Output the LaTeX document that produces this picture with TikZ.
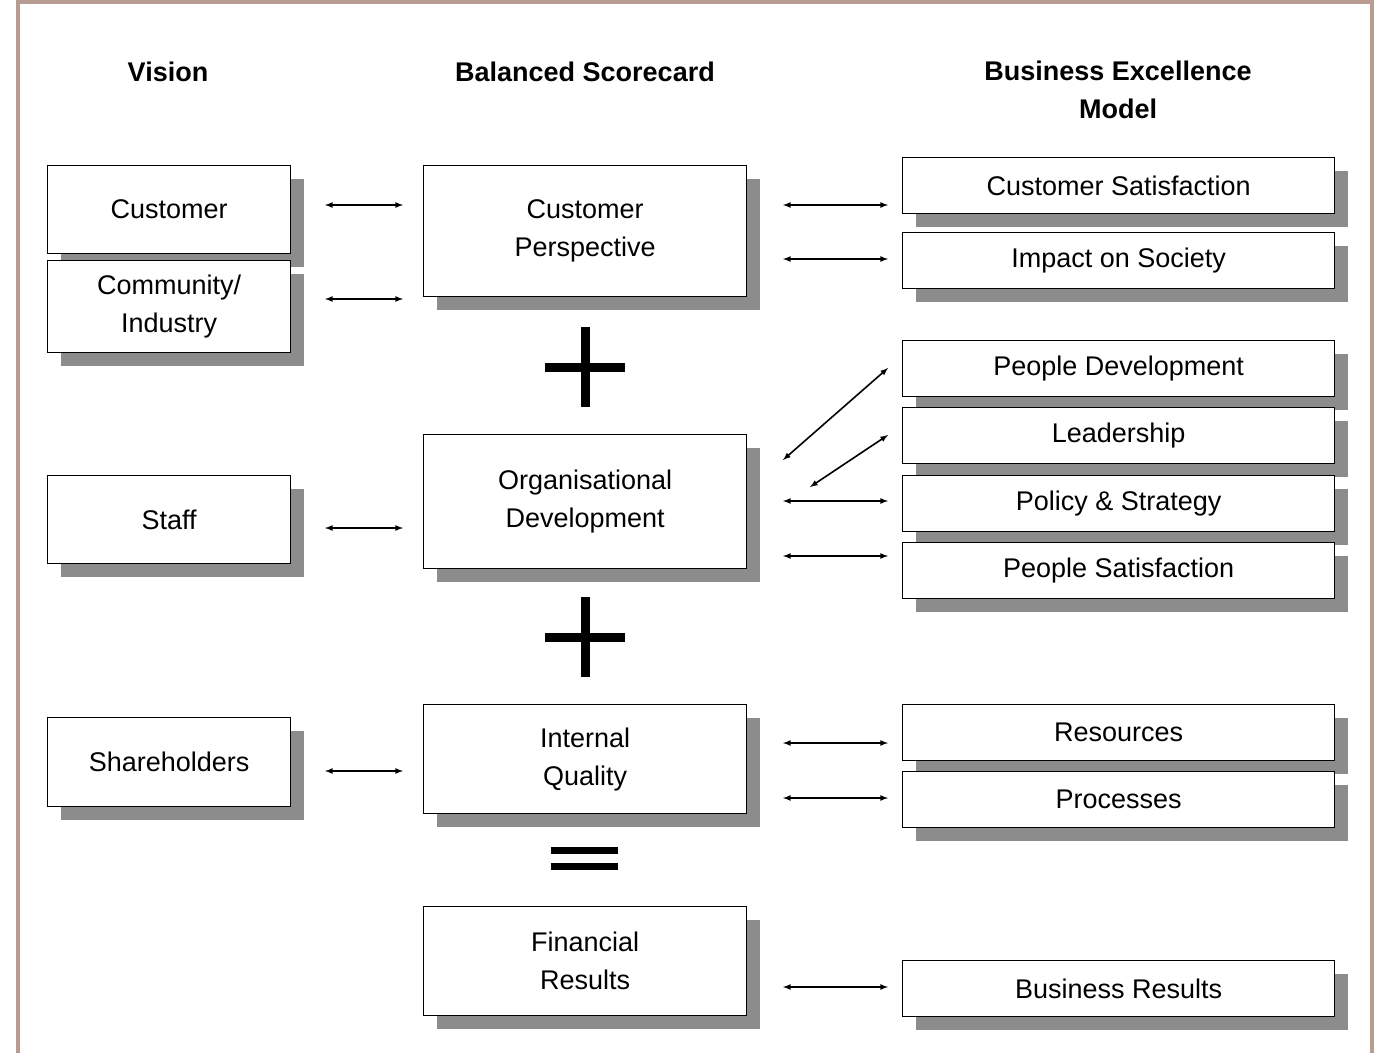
\documentclass[tikz,border=0pt]{standalone}
\usepackage{fontspec}
\setmainfont{Liberation Sans}
\usetikzlibrary{shadows}
\definecolor{frame}{HTML}{B89C92}
\begin{document}
\begin{tikzpicture}[x=1pt,y=-1pt,
  box/.style={draw=black,line width=1.2pt,fill=white,anchor=north west,inner sep=0pt,align=center,
    font=\fontsize{27}{38}\selectfont,
    drop shadow={shadow xshift=13pt,shadow yshift=-13pt,fill=black!45,opacity=1}},
  hd/.style={font=\bfseries\fontsize{27}{38}\selectfont,align=center},
  arr/.style={<->,>=latex,line width=1.6pt,shorten <=0pt},
  bar/.style={line width=9pt}]
\useasboundingbox (0,0) rectangle (1394,1052);
\draw[frame,line width=4pt] (18,-5) -- (18,1060) (1372,-5) -- (1372,1060) (16,2) -- (1374,2);
\node[hd] (h1) at (168,72) {Vision};
\node[hd] (h2) at (585,72) {Balanced Scorecard};
\node[hd] (h3) at (1118,90) {Business Excellence\\Model};
% left
\node[box,minimum width=243pt,minimum height=88pt] (l1) at (47,165) {Customer};
\node[box,minimum width=243pt,minimum height=92pt] (l2) at (47,260) {Community/\\Industry};
\node[box,minimum width=243pt,minimum height=88pt] (l3) at (47,475) {Staff};
\node[box,minimum width=243pt,minimum height=89pt] (l4) at (47,717) {Shareholders};
% middle
\node[box,minimum width=323pt,minimum height=131pt] (m1) at (423,165) {Customer\\Perspective};
\node[box,minimum width=323pt,minimum height=134pt] (m2) at (423,434) {Organisational\\Development};
\node[box,minimum width=323pt,minimum height=109pt] (m3) at (423,704) {Internal\\Quality};
\node[box,minimum width=323pt,minimum height=109pt] (m4) at (423,906) {Financial\\Results};
% right
\foreach \n/\y/\t in {r1/157/Customer Satisfaction,r2/232/Impact on Society,r3/340/People Development,
  r4/407/Leadership,r5/475/Policy \& Strategy,r6/542/People Satisfaction,r7/704/Resources,
  r8/771/Processes,r9/960/Business Results}
  \node[box,minimum width=432pt,minimum height=56pt] (\n) at (902,\y) {\t};
% arrows left
\foreach \i/\y in {1/205,2/299,3/528,4/771}{
  \coordinate (la\i) at (325,\y); \coordinate (lb\i) at (403,\y);
  \draw[arr] (la\i) -- (lb\i);}
\foreach \i/\y in {1/205,2/259,3/501,4/556,5/743,6/798,7/987}{
  \coordinate (ra\i) at (783,\y); \coordinate (rb\i) at (888,\y);
  \draw[arr] (ra\i) -- (rb\i);}
\coordinate (d1a) at (783,460); \coordinate (d1b) at (888,368);
\coordinate (d2a) at (810,487); \coordinate (d2b) at (888,435);
\draw[arr] (d1a) -- (d1b);
\draw[arr] (d2a) -- (d2b);
% operators
\foreach \y in {367,637}{
  \draw[bar] (545,\y) -- (625,\y);
  \draw[bar] (585,\y-40) -- (585,\y+40);}
\draw[line width=7pt] (551,850) -- (618,850) (551,866) -- (618,866);
\end{tikzpicture}
\end{document}
